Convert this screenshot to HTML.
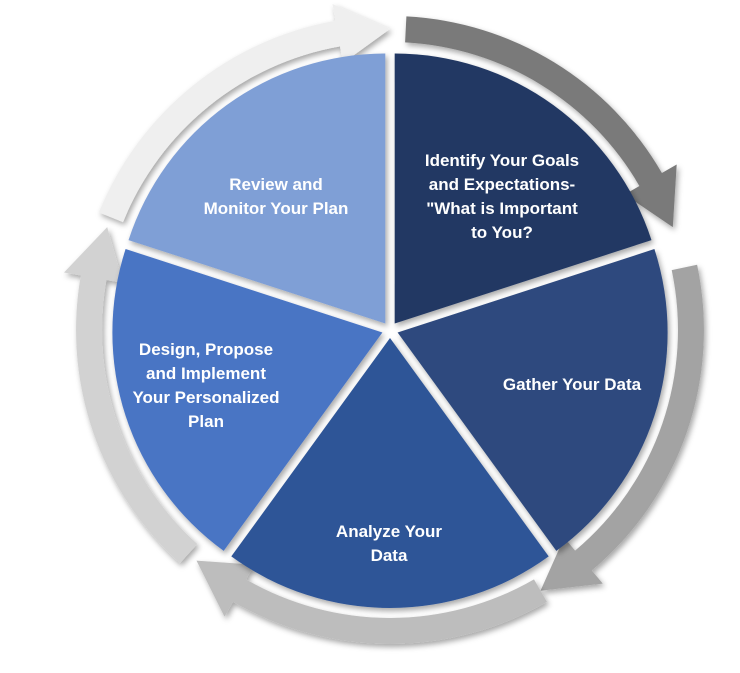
<!DOCTYPE html>
<html><head><meta charset="utf-8">
<style>
html,body{margin:0;padding:0;background:#fff;}
svg{display:block;}
text{font-family:"Liberation Sans",sans-serif;font-size:17px;font-weight:bold;fill:#fff;text-anchor:middle;}
</style></head>
<body>
<svg id="s" width="740" height="673" viewBox="0 0 740 673" xmlns="http://www.w3.org/2000/svg">
<defs>
<filter id="sh" x="-20%" y="-20%" width="140%" height="140%">
<feDropShadow dx="2" dy="3" stdDeviation="3" flood-color="#000" flood-opacity="0.35"/>
</filter>
</defs>
<g id="arrows"></g>
<g id="wedges"></g>
<text x="502" y="166">Identify Your Goals</text>
<text x="502" y="190">and Expectations-</text>
<text x="502" y="214">"What is Important</text>
<text x="502" y="238">to You?</text>
<text x="572" y="390">Gather Your Data</text>
<text x="389" y="537">Analyze Your</text>
<text x="389" y="561">Data</text>
<text x="206" y="355">Design, Propose</text>
<text x="206" y="379">and Implement</text>
<text x="206" y="403">Your Personalized</text>
<text x="206" y="427">Plan</text>
<text x="276" y="190">Review and</text>
<text x="276" y="214">Monitor Your Plan</text>
</svg>
<script>
var cx=390,cy=330,R=270;
function P(r,a){a=a*Math.PI/180;return [cx+r*Math.sin(a),cy-r*Math.cos(a)];}
function f(p){return p[0].toFixed(1)+","+p[1].toFixed(1);}
var wc=["#203864","#2e4a7e","#2f5597","#4a74c4","#7f9fd6"];
var g=document.getElementById("wedges"),h="";
for(var i=0;i<5;i++){
 var a0=i*72,a1=a0+72,m=a0+36,off=8;
 var o=P(off,m);var ox=o[0]-cx,oy=o[1]-cy;
 var s=P(R,a0),e=P(R,a1);
 h+='<path filter="url(#sh)" fill="'+wc[i]+'" d="M'+(cx+ox)+','+(cy+oy)+' L'+(s[0]+ox)+','+(s[1]+oy)+' A'+R+','+R+' 0 0 1 '+(e[0]+ox)+','+(e[1]+oy)+' Z"/>';
}
g.innerHTML=h;
var ac=[["#7a7a7a",3,70],["#a3a3a3",78,150],["#bdbdbd",150,220],["#d2d2d2",222,290],["#efefef",292,360]];
var ag=document.getElementById("arrows"),t="";
var r1=288,r2=314,rm=301,hl=10;
for(var j=0;j<ac.length;j++){
 var c=ac[j],a0=c[1],a1=c[2],ah=a1-hl;
 var p1=P(r2,a0),p2=P(r2,ah),p3=P(r2+17,ah),tip=P(rm,a1),p4=P(r1-17,ah),p5=P(r1,ah),p6=P(r1,a0);
 t+='<path filter="url(#sh)" fill="'+c[0]+'" d="M'+f(p1)+' A'+r2+','+r2+' 0 0 1 '+f(p2)+' L'+f(p3)+' L'+f(tip)+' L'+f(p4)+' L'+f(p5)+' A'+r1+','+r1+' 0 0 0 '+f(p6)+' Z"/>';
}
ag.innerHTML=t;
</script>
</body></html>
